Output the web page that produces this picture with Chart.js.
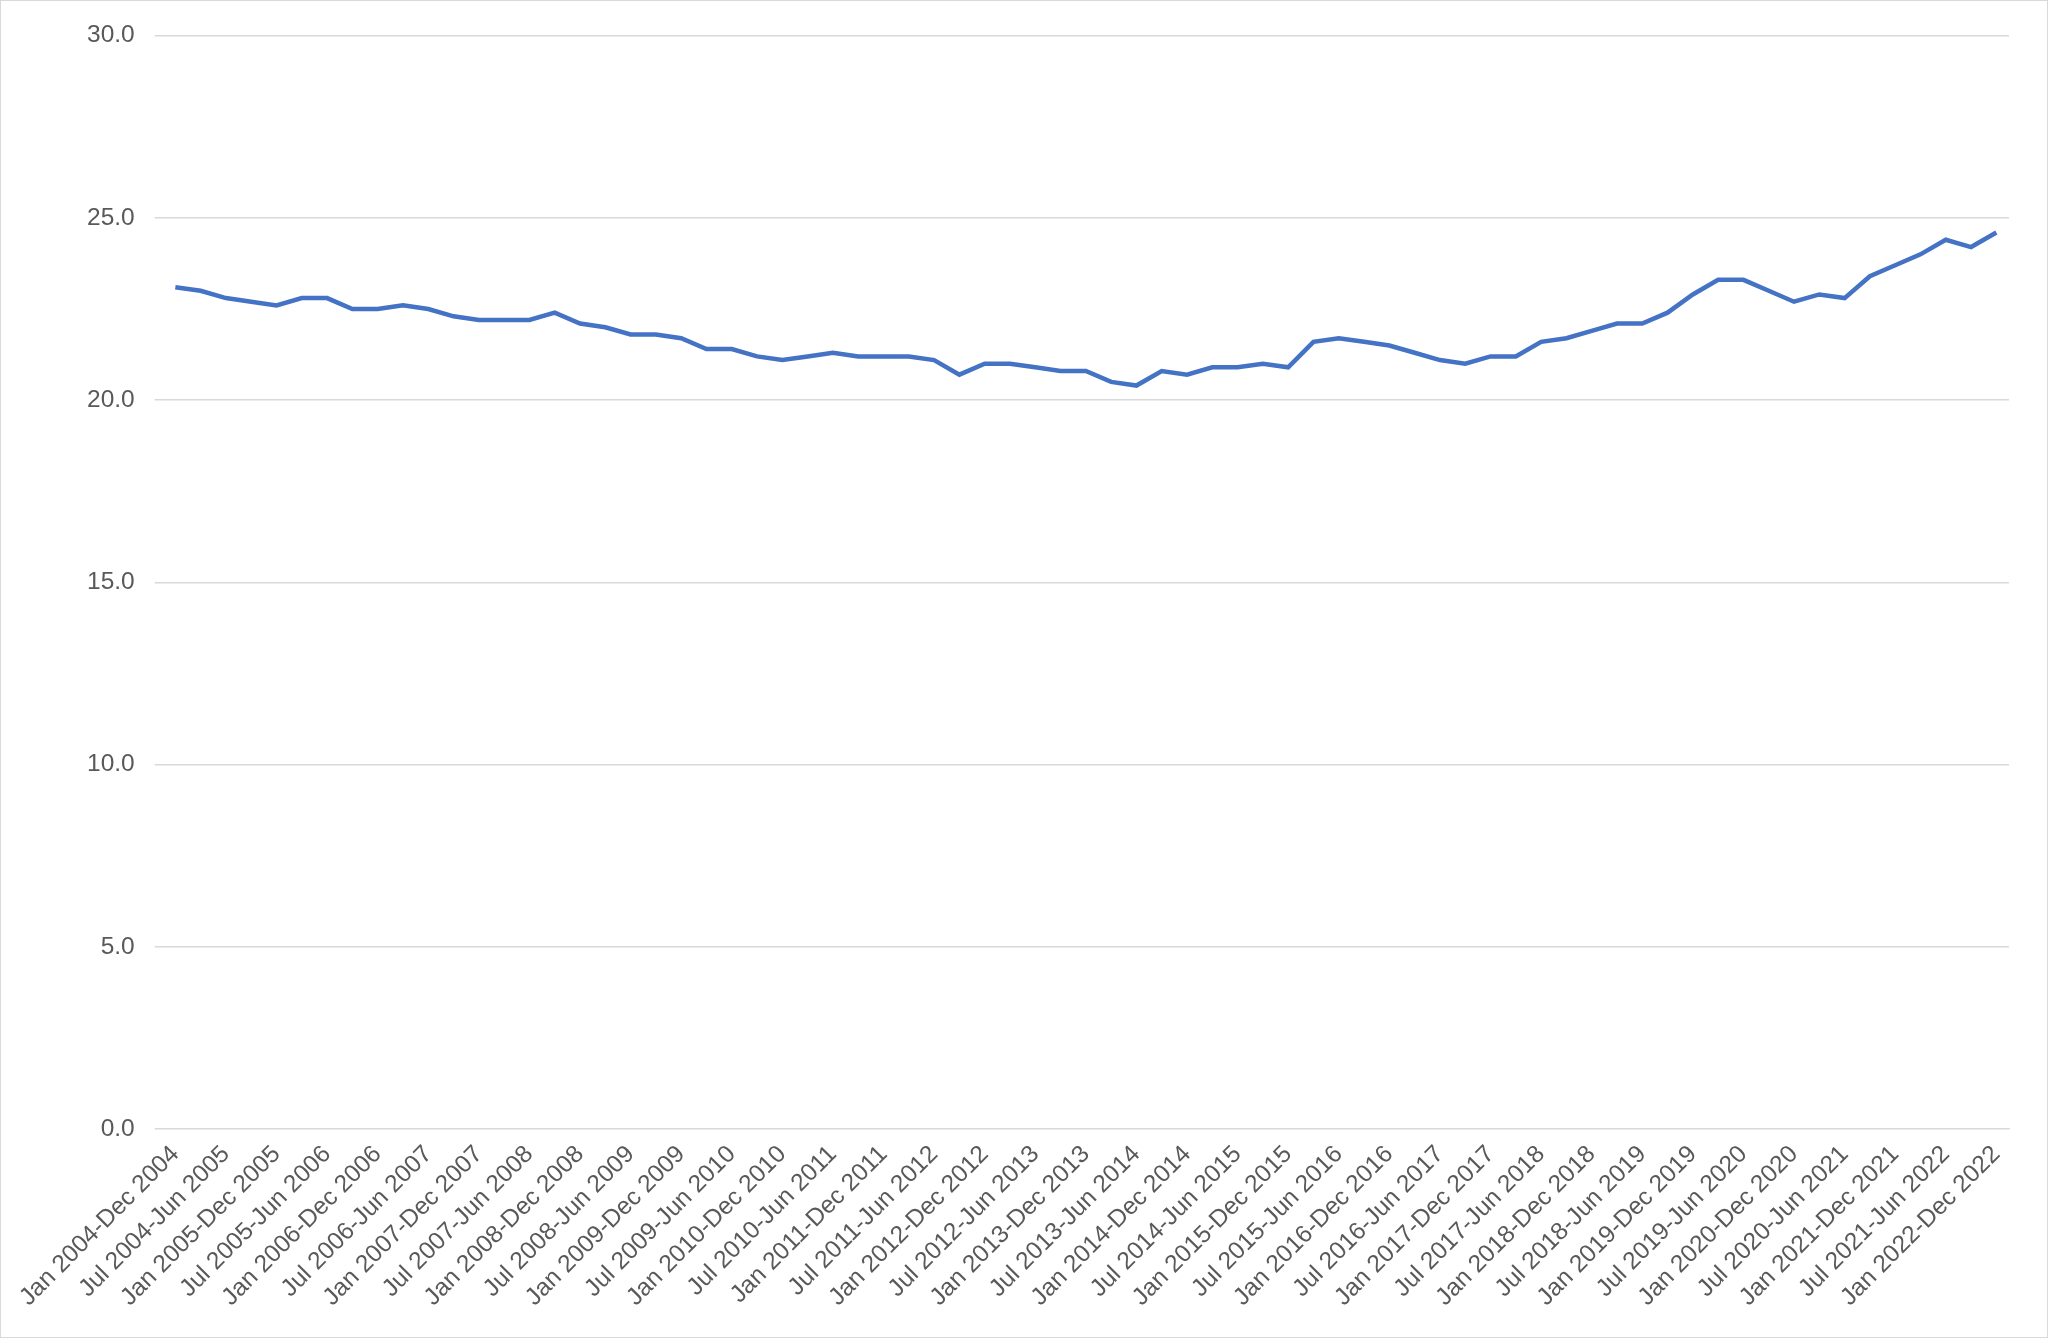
<!DOCTYPE html>
<html><head><meta charset="utf-8">
<script src="https://cdn.jsdelivr.net/npm/chart.js@4"></script>
<style>
html,body{margin:0;padding:0;background:#fff;}
#wrap{position:absolute;left:0;top:0;width:2046px;height:1336px;border:1px solid #d9d9d9;}
</style></head><body>
<div id="wrap"><canvas id="c" width="2046" height="1336"></canvas></div>
<script>
const months=['Jan','Apr','Jul','Oct'];
const endMonths=['Dec','Mar','Jun','Sep'];
const categories=[];
for(let y=2004;y<=2022;y++){for(let q=0;q<4;q++){if(y===2022&&q>0)break;categories.push(months[q]+' '+y+'-'+endMonths[q]+' '+(q===0?y:y+1));}}
const values=[23.1,23.0,22.8,22.7,22.6,22.8,22.8,22.5,22.5,22.6,22.5,22.3,22.2,22.2,22.2,22.4,22.1,22.0,21.8,21.8,21.7,21.4,21.4,21.2,21.1,21.2,21.3,21.2,21.2,21.2,21.1,20.7,21.0,21.0,20.9,20.8,20.8,20.5,20.4,20.8,20.7,20.9,20.9,21.0,20.9,21.6,21.7,21.6,21.5,21.3,21.1,21.0,21.2,21.2,21.6,21.7,21.9,22.1,22.1,22.4,22.9,23.3,23.3,23.0,22.7,22.9,22.8,23.4,23.7,24.0,24.4,24.2,24.6];
const yTicks=[0,5,10,15,20,25,30];
new Chart(document.getElementById('c'),{
type:'line',
data:{labels:categories,datasets:[{data:values,borderColor:'#4472C4',borderWidth:4.5,pointRadius:0,tension:0,fill:false}]},
options:{responsive:false,animation:false,
layout:{padding:{left:66,right:38,top:24,bottom:22}},
plugins:{legend:{display:false},tooltip:{enabled:false}},
scales:{
x:{offset:true,grid:{display:false},border:{color:'#d9d9d9'},
 ticks:{autoSkip:false,maxRotation:45,minRotation:45,color:'#595959',font:{family:'Liberation Sans',size:24.5},
  callback:function(v,i){return i%2===0?categories[i]:'';}}},
y:{min:0,max:30,afterBuildTicks:s=>{s.ticks=yTicks.map(v=>({value:v}));},
 grid:{color:'#d9d9d9',lineWidth:1.5},border:{display:false},
 ticks:{color:'#595959',padding:20,font:{family:'Liberation Sans',size:24.5},callback:v=>v.toFixed(1)}}
}}});
</script></body></html>
